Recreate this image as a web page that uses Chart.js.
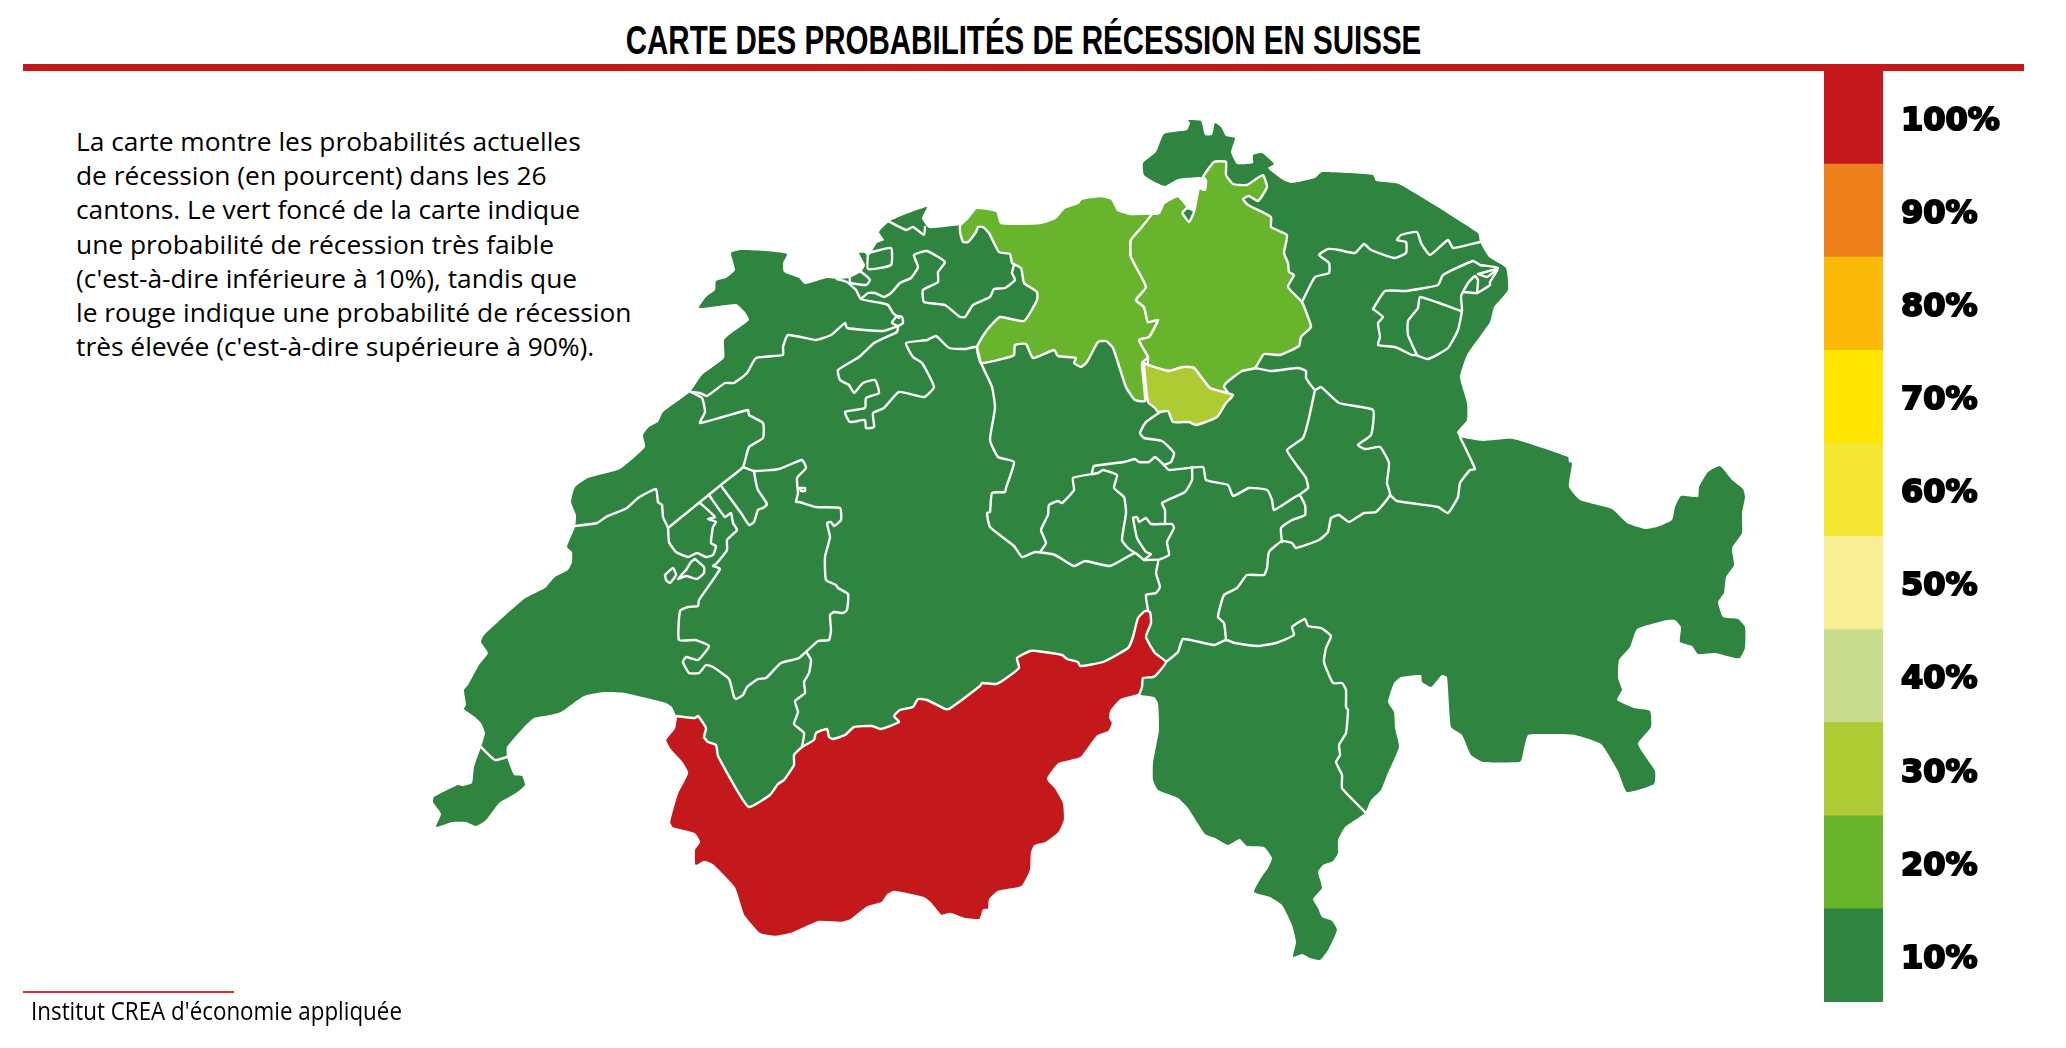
<!DOCTYPE html>
<html lang="fr">
<head>
<meta charset="utf-8">
<title>Carte des probabilités de récession en Suisse</title>
<script src="https://cdn.jsdelivr.net/npm/chart.js@4"></script>
<style>
  html, body { margin: 0; padding: 0; background: #fff; overflow: hidden; width: 2066px; height: 1048px; }
  canvas { position: absolute; }
  #map { left: 0; top: 0; }
  #scale { left: 1824px; top: 71px; }
  #title { position: absolute; left: 23px; width: 2001px; top: 18px; text-align: center; margin: 0;
    font: bold 40px "Liberation Sans", sans-serif; color: #000; white-space: nowrap; transform: scaleX(0.738); }
  #topRule { position: absolute; left: 23px; top: 64px; width: 2001px; height: 7px; background: #c4191c; }
  #note { position: absolute; left: 76px; top: 124px; font: 26.35px/34.2px "Open Sans", sans-serif; color: #000; white-space: nowrap; }
  #footRule { position: absolute; left: 23px; top: 991px; width: 211px; height: 2px; background: #e0282c; }
  #source { position: absolute; left: 31px; top: 993px; font: 25px "Open Sans", sans-serif; color: #000; white-space: nowrap;
    transform: scaleX(0.895); transform-origin: left center; }
</style>
</head>
<body>
<h1 id="title"></h1>
<div id="topRule"></div>
<div id="note"></div>
<canvas id="map" width="2066" height="1048"></canvas>
<canvas id="scale" width="242" height="931"></canvas>
<div id="footRule"></div>
<div id="source"></div>
<script>
const titleText = 'CARTE DES PROBABILITÉS DE RÉCESSION EN SUISSE';
const sourceText = "Institut CREA d'économie appliquée";
const noteLines = [
    'La carte montre les probabilités actuelles',
    'de récession (en pourcent) dans les 26',
    'cantons. Le vert foncé de la carte indique',
    'une probabilité de récession très faible',
    "(c'est-à-dire inférieure à 10%), tandis que",
    'le rouge indique une probabilité de récession',
    "très élevée (c'est-à-dire supérieure à 90%)."
];

// colour scale, top to bottom
const scaleLabels = ['100%', '90%', '80%', '70%', '60%', '50%', '40%', '30%', '20%', '10%'];
const scaleColors = ['#c4191c', '#ef7f1a', '#fbb90a', '#ffe600', '#f4e732', '#f8ef94', '#c8dc8e', '#aecb33', '#69b42d', '#2f853f'];
const scaleBands = [1, 1, 1, 1, 1, 1, 1, 1, 1, 1];

// probabilities of the cantons that are not in the lowest class
const valaisLevel = '100%';
const aargauLevel = '20%';
const zurichLevel = '20%';
const zugLevel = '30%';
const otherLevel = '10%';

// country outline, from the Valais corner on the lake, clockwise
const outlineMain = [[676,716],[672,707],[666,703],[625,693],[604,692],[584,696],[561,712],[550,715],[534,718],[524,727],[507,747],[507,757],[514,775],[522,776],[525,785],[516,793],[499,803],[486,820],[476,826],[466,822],[452,822],[436,827],[441,814],[433,802],[434,797],[458,785],[463,786],[472,783],[474,767],[481,747],[485,733],[481,723],[475,717],[464,709],[466,705],[464,690],[468,685],[479,665],[488,653],[481,642],[484,635],[524,599],[545,588],[555,577],[568,570],[572,562],[572,552],[567,547],[575,527],[576,515],[571,502],[575,487],[588,478],[620,469],[645,447],[643,435],[649,427],[658,422],[663,412],[690,392],[702,375],[724,358],[724,340],[733,332],[749,320],[745,312],[736,304],[699,308],[706,297],[715,290],[716,281],[726,278],[735,270],[731,253],[741,250],[766,251],[787,254],[783,263],[784,272],[799,278],[805,284],[827,278],[838,279],[849,278],[861,272],[865,265],[859,253],[865,253],[868,257],[877,243],[884,240],[879,232],[890,221],[906,214],[927,207],[922,218],[929,228],[952,226],[960,225],[967,219],[976,208],[997,211],[1001,223],[1040,223],[1055,218],[1064,208],[1078,203],[1081,199],[1101,196],[1112,199],[1118,210],[1131,214],[1152,214],[1159,213],[1164,203],[1178,196],[1188,207],[1194,211],[1199,188],[1205,190],[1206,180],[1201,177],[1178,179],[1165,186],[1155,182],[1144,175],[1143,163],[1156,152],[1164,134],[1187,130],[1190,123],[1188,120],[1201,121],[1205,135],[1212,135],[1215,123],[1221,127],[1226,136],[1235,138],[1231,152],[1237,164],[1253,163],[1253,155],[1262,153],[1274,164],[1268,168],[1283,180],[1292,183],[1315,178],[1322,172],[1373,175],[1376,181],[1399,184],[1478,233],[1480,242],[1489,257],[1506,268],[1508,290],[1494,307],[1490,322],[1467,355],[1460,377],[1467,403],[1467,420],[1457,432],[1460,437],[1483,441],[1513,439],[1568,457],[1569,462],[1572,463],[1569,487],[1580,500],[1612,509],[1627,523],[1645,529],[1657,527],[1672,520],[1675,507],[1681,496],[1698,497],[1699,487],[1708,472],[1720,466],[1732,480],[1743,489],[1745,497],[1742,513],[1742,533],[1732,548],[1734,565],[1726,577],[1724,593],[1718,602],[1723,617],[1738,619],[1745,627],[1745,648],[1740,658],[1735,658],[1715,653],[1698,654],[1692,646],[1680,642],[1681,627],[1675,620],[1667,620],[1637,629],[1630,647],[1619,660],[1618,678],[1622,690],[1617,700],[1634,708],[1650,711],[1651,727],[1638,744],[1655,771],[1654,784],[1627,792],[1618,771],[1601,744],[1575,735],[1548,734],[1528,735],[1522,758],[1520,762],[1483,762],[1471,755],[1462,735],[1451,727],[1447,677],[1442,675],[1435,683],[1431,687],[1422,682],[1421,675],[1401,677],[1394,683],[1388,702],[1394,712],[1395,728],[1399,747],[1387,775],[1381,790],[1371,800],[1365,813],[1345,827],[1338,840],[1338,853],[1333,861],[1323,865],[1318,872],[1322,888],[1313,899],[1318,908],[1322,917],[1332,921],[1337,930],[1328,950],[1320,960],[1310,958],[1302,954],[1293,957],[1296,942],[1292,925],[1282,905],[1270,897],[1254,892],[1261,878],[1268,868],[1272,858],[1264,847],[1247,846],[1240,839],[1237,840],[1228,845],[1215,838],[1205,834],[1188,808],[1178,798],[1158,790],[1153,780],[1153,763],[1159,730],[1158,703],[1154,697],[1139,695]];
// south edge of Valais, east to west
const outlineValais = [[1139,695],[1121,700],[1112,710],[1110,717],[1113,723],[1109,732],[1098,736],[1082,757],[1075,760],[1059,764],[1048,779],[1056,788],[1064,803],[1065,820],[1059,833],[1046,843],[1035,846],[1032,853],[1031,870],[1022,887],[998,892],[990,900],[989,910],[984,910],[980,920],[964,919],[950,914],[941,916],[930,903],[923,898],[894,892],[888,895],[882,903],[868,907],[851,920],[842,923],[819,922],[791,934],[775,937],[762,935],[757,932],[743,915],[734,888],[712,865],[704,862],[697,866],[694,865],[694,849],[699,842],[694,834],[672,828],[669,822],[677,793],[687,773],[681,762],[670,750],[665,740],[674,728],[676,716]];
// north edge of Valais, west to east
const valaisNorth = [[676,716],[695,718],[698,716],[706,728],[704,737],[708,742],[716,745],[718,756],[738,792],[749,807],[770,795],[778,784],[784,780],[794,765],[794,755],[802,747],[814,740],[816,733],[827,729],[829,737],[833,739],[845,735],[854,727],[872,726],[881,729],[899,722],[894,716],[900,710],[913,707],[918,699],[927,700],[945,709],[949,709],[980,686],[982,683],[996,684],[1005,679],[1019,668],[1017,658],[1030,651],[1037,651],[1062,655],[1067,659],[1078,662],[1080,666],[1103,662],[1128,648],[1133,637],[1138,618],[1145,611],[1150,612],[1151,623],[1146,637],[1155,653],[1166,662],[1158,673],[1153,677],[1143,678],[1142,687],[1139,695]];

const aargauEdge = [[960,225],[967,219],[976,208],[997,211],[1001,223],[1040,223],[1055,218],[1064,208],[1078,203],[1081,199],[1101,196],[1112,199],[1118,210],[1131,214],[1152,214],[1142,227],[1131,240],[1131,257],[1146,287],[1136,300],[1144,307],[1148,322],[1158,320],[1149,337],[1139,340],[1148,357],[1142,363],[1145,401],[1135,400],[1126,387],[1113,348],[1106,341],[1098,342],[1087,362],[1081,367],[1074,363],[1076,358],[1058,356],[1054,350],[1033,358],[1026,344],[1015,345],[1014,355],[1006,358],[981,363],[977,347],[987,330],[1000,317],[1024,321],[1037,300],[1037,292],[1024,283],[1021,268],[1012,263],[1010,254],[999,252],[989,233],[983,227],[978,227],[976,232],[968,242],[963,242],[960,232],[960,225]];
const zurichEdge = [[1152,214],[1159,213],[1164,203],[1178,196],[1188,207],[1194,211],[1199,188],[1205,190],[1206,180],[1203,177],[1214,162],[1226,162],[1226,175],[1233,184],[1247,185],[1256,179],[1263,175],[1267,187],[1258,201],[1249,196],[1243,199],[1248,205],[1271,217],[1271,227],[1287,235],[1284,253],[1288,263],[1289,272],[1294,275],[1288,287],[1302,302],[1308,317],[1311,327],[1301,337],[1299,346],[1280,355],[1264,354],[1255,368],[1242,371],[1226,383],[1224,387],[1228,393],[1210,388],[1194,368],[1183,367],[1169,371],[1148,365],[1148,357],[1139,340],[1149,337],[1158,320],[1148,322],[1144,307],[1136,300],[1146,287],[1131,257],[1131,240],[1142,227],[1152,214]];
const zugEdge = [[1148,365],[1169,371],[1183,367],[1194,368],[1210,388],[1233,395],[1226,403],[1217,417],[1196,425],[1189,422],[1173,422],[1168,411],[1158,412],[1155,408],[1148,402],[1144,363],[1148,365]];
const zurichExclave = [[1182,213],[1187,208],[1194,211],[1189,222],[1182,213]];

// small closed pieces inside the dark area
const baselLoop = [[892,322],[897,316],[902,317],[903,323],[898,326],[892,323]];
const laufenLoop = [[868,253],[891,248],[891,265],[868,269],[868,253]];
const rheinfeldenLoop = [[850,283],[850,273],[861,272],[870,280],[866,285],[850,283]];
const estavayerLoop = [[695,559],[704,567],[704,573],[697,579],[686,576],[678,579],[686,570],[691,562],[695,559]];
const surpierreLoop = [[665,575],[673,568],[676,575],[670,583],[666,580],[665,575]];
const tinyLoop = [[800,488],[805,488],[805,491],[801,491],[800,488]];
const appenzellOuter = [[1373,309],[1385,291],[1405,291],[1438,285],[1443,275],[1473,261],[1480,265],[1498,268],[1490,282],[1490,285],[1477,293],[1463,292],[1461,297],[1462,310],[1458,330],[1448,348],[1428,359],[1416,355],[1412,355],[1395,347],[1378,345],[1380,337],[1378,323],[1383,317],[1373,309]];
const appenzellInner = [[1461,311],[1420,297],[1418,308],[1408,321],[1408,335],[1417,355]];
const appenzellSmall = [[1463,292],[1468,283],[1475,276],[1478,280],[1477,293]];
const appenzellTip = [[1478,274],[1497,269],[1487,277],[1478,274]];

// open border lines
const borderGeneva = [[481,747],[495,760],[507,757]];
const borderJuraSouth = [[837,279],[847,282],[856,290],[861,299],[881,303],[888,305],[893,313],[899,318]];
const borderSolothurn = [[898,326],[897,332],[884,338],[874,343],[859,357],[838,370],[840,380],[849,385],[854,393],[863,383],[875,380],[879,393],[866,398],[865,408],[845,412],[850,422],[865,420],[866,428],[874,427],[873,413],[884,408],[899,392],[924,397],[934,387],[922,363],[913,357],[906,343],[927,340],[936,336],[949,348],[965,349],[974,347],[977,347]];
const borderJuraBern = [[691,392],[700,393],[707,396],[725,383],[734,383],[747,373],[756,358],[783,355],[783,347],[788,335],[816,340],[831,335],[845,323],[847,328],[883,331],[898,326]];
const borderNeuchatel = [[691,392],[702,398],[705,412],[700,423],[748,410],[749,415],[763,423],[763,438],[749,447],[743,467],[727,480],[668,528]];
const borderVaudLake = [[575,526],[597,523],[606,517],[627,508],[638,498],[656,489],[658,502],[662,505],[663,517],[668,528],[669,542],[676,552],[688,557],[697,553],[706,557],[713,555],[716,546],[711,543],[713,527],[716,522],[708,519],[715,517],[700,503]];
const borderFribourg = [[709,495],[725,517],[731,513],[733,523],[737,530],[727,540],[727,550],[716,564],[713,566],[720,569],[699,600],[698,606],[688,607],[680,611],[679,640],[695,640],[709,646],[698,660],[686,657],[683,662],[689,673],[699,673],[706,665],[713,667],[729,679],[734,697],[736,699],[743,695],[747,687],[758,679],[766,678],[781,663],[799,658],[818,641],[829,640],[831,630],[830,615],[834,612],[843,613],[847,610],[848,594],[838,588],[836,585],[826,580],[825,557],[830,537],[827,523],[831,522],[834,526],[841,520],[840,508],[816,507],[799,502],[796,502],[798,493],[797,478],[806,468],[802,460],[779,469],[754,471],[743,467]];
const borderBroye = [[754,471],[756,483],[758,490],[767,504],[763,508],[758,510],[754,522],[749,525],[741,513],[722,487]];
const borderVaudValais = [[807,653],[811,660],[809,673],[804,682],[805,693],[795,701],[798,712],[794,724],[804,733],[802,747]];
const borderBernEast = [[977,347],[981,363],[992,387],[995,408],[990,440],[998,457],[1014,462],[1006,488],[1005,492],[992,493],[990,512],[987,513],[990,527],[1014,546],[1022,557],[1035,552],[1055,555],[1074,566],[1085,561],[1110,566],[1135,553],[1144,560],[1158,560],[1156,573],[1160,587],[1156,593],[1146,595],[1148,610]];
const borderObwalden = [[1040,552],[1046,543],[1041,530],[1048,515],[1049,505],[1058,501],[1062,503],[1074,490],[1073,478],[1098,473],[1103,470],[1117,475],[1114,488],[1124,497],[1126,513],[1122,540],[1128,548],[1135,553]];
const borderLucerne = [[1092,472],[1094,466],[1124,462],[1135,459],[1139,462],[1149,462],[1155,457],[1164,465],[1169,470],[1203,467],[1206,480],[1228,485],[1233,496],[1249,488],[1267,490],[1272,500],[1274,510],[1299,495],[1305,505],[1305,515],[1292,520],[1281,528],[1282,542]];
const borderNidwalden = [[1133,518],[1137,517],[1139,522],[1146,518],[1151,524],[1172,524],[1174,528],[1167,542],[1169,555],[1158,560]];
const borderNidwalden2 = [[1133,518],[1137,538],[1146,552],[1151,554],[1144,560]];
const borderEngelberg = [[1165,523],[1165,510],[1162,503],[1185,492],[1192,480],[1192,467]];
const borderSchwyz = [[1299,495],[1308,488],[1306,478],[1298,467],[1287,450],[1303,438],[1308,422],[1315,390]];
const borderGlarus = [[1255,368],[1271,371],[1298,368],[1306,371],[1306,378],[1315,390],[1321,387],[1339,403],[1373,410],[1371,435],[1358,445],[1365,449],[1380,447],[1389,463],[1387,483],[1390,495],[1376,512],[1364,513],[1349,522],[1339,515],[1331,518],[1328,532],[1319,540],[1296,548],[1292,543],[1282,541],[1269,552],[1267,568],[1264,575],[1247,575],[1237,588],[1224,595],[1218,617],[1224,623],[1226,640]];
const borderGotthard = [[1166,662],[1178,652],[1183,639],[1214,645],[1226,640],[1235,643],[1258,646],[1276,643],[1294,635],[1292,627],[1305,619],[1308,626],[1321,628],[1331,636],[1326,648],[1324,662],[1333,683],[1342,683],[1346,690],[1346,707],[1348,710],[1346,733],[1339,745],[1340,755],[1336,762],[1342,775],[1342,788],[1353,800],[1366,813]];
const borderGrisons = [[1390,495],[1397,501],[1438,507],[1448,513],[1458,497],[1460,483],[1470,470],[1475,469],[1460,437]];
const borderThurgau = [[1302,302],[1315,277],[1329,273],[1329,263],[1319,255],[1328,249],[1339,250],[1355,253],[1364,244],[1371,250],[1394,258],[1406,253],[1406,242],[1397,240],[1401,235],[1417,232],[1421,243],[1430,255],[1448,240],[1453,248],[1480,242]];
const borderZugSouth = [[1163,410],[1146,422],[1140,433],[1144,438],[1162,441],[1174,453],[1171,462],[1164,465]];
const borderBaselLand = [[861,299],[868,293],[875,293],[884,297],[891,293],[900,283],[911,278],[918,267],[914,255],[927,251],[945,262],[938,272],[938,282],[923,290],[924,302],[945,305],[960,317],[965,317],[973,305],[990,297],[994,289],[1005,288],[1015,280],[1012,273],[1014,265]];
const borderFricktal = [[888,221],[906,230],[913,227],[924,235],[925,227]];

const whiteLines = [baselLoop, laufenLoop, rheinfeldenLoop, estavayerLoop, surpierreLoop, tinyLoop,
    appenzellOuter, appenzellInner, appenzellSmall, appenzellTip, borderGeneva, borderJuraSouth, borderSolothurn,
    borderJuraBern, borderNeuchatel, borderVaudLake, borderFribourg, borderBroye, borderVaudValais,
    borderBernEast, borderObwalden, borderLucerne, borderNidwalden, borderNidwalden2, borderEngelberg,
    borderSchwyz, borderGlarus, borderGotthard, borderGrisons, borderThurgau, borderZugSouth,
    borderBaselLand, borderFricktal];

function colorOf(level) {
    return scaleColors[scaleLabels.indexOf(level)];
}

// filled canton, drawn through the scatter scales
function cantonArea(points, level, stroke) {
    return {
        data: points,
        showLine: true,
        fill: 'shape',
        backgroundColor: colorOf(level),
        borderColor: stroke ? '#ffffff' : colorOf(level),
        borderWidth: stroke ? 2.4 : 0,
        tension: 0.15,
        pointRadius: 0,
        borderJoinStyle: 'round'
    };
}

function borderLine(points) {
    return {
        data: points,
        showLine: true,
        fill: false,
        borderColor: '#ffffff',
        borderWidth: 2.4,
        tension: 0.15,
        pointRadius: 0,
        borderJoinStyle: 'round',
        borderCapStyle: 'round'
    };
}

const mapDatasets = [
    cantonArea(outlineMain.concat(outlineValais), otherLevel, false),
    cantonArea(aargauEdge, aargauLevel, true),
    cantonArea(zurichEdge, zurichLevel, true),
    cantonArea(valaisNorth.concat(outlineValais), valaisLevel, true),
    cantonArea(zurichExclave, otherLevel, true),
    ...whiteLines.map(borderLine),
    cantonArea(zugEdge, zugLevel, true)
];
// later entries go on top
mapDatasets.forEach((d, i) => { d.order = mapDatasets.length - i; });

new Chart(document.getElementById('map'), {
    type: 'scatter',
    data: { datasets: mapDatasets },
    options: {
        responsive: false,
        animation: false,
        devicePixelRatio: 1,
        events: [],
        layout: { padding: 0 },
        plugins: { legend: { display: false }, tooltip: { enabled: false } },
        scales: {
            x: { type: 'linear', min: 0, max: 2066, display: false },
            y: { type: 'linear', min: 0, max: 1048, reverse: true, display: false }
        }
    }
});

new Chart(document.getElementById('scale'), {
    type: 'bar',
    data: {
        labels: scaleLabels,
        datasets: [{
            data: scaleBands,
            backgroundColor: scaleColors,
            barPercentage: 1,
            categoryPercentage: 1
        }]
    },
    options: {
        indexAxis: 'y',
        responsive: false,
        animation: false,
        devicePixelRatio: 1,
        events: [],
        layout: { padding: 0 },
        plugins: { legend: { display: false }, tooltip: { enabled: false } },
        scales: {
            x: { min: 0, max: 1, display: false },
            y: {
                position: 'right',
                grid: { display: false, drawTicks: false },
                border: { display: false },
                afterFit: (scale) => {
                    scale.width = 183;
                    // the band column has to fill the canvas from top to bottom
                    scale.paddingTop = 0;
                    scale.paddingBottom = 0;
                },
                ticks: {
                    padding: 18,
                    labelOffset: 4,
                    color: '#000',
                    textStrokeColor: '#000',
                    textStrokeWidth: 2,
                    font: { family: '"DejaVu Sans"', weight: 'bold', size: 32 }
                }
            }
        }
    }
});

document.getElementById('title').textContent = titleText;
document.getElementById('note').innerHTML = noteLines.join('<br>');
document.getElementById('source').textContent = sourceText;
</script>
</body>
</html>
